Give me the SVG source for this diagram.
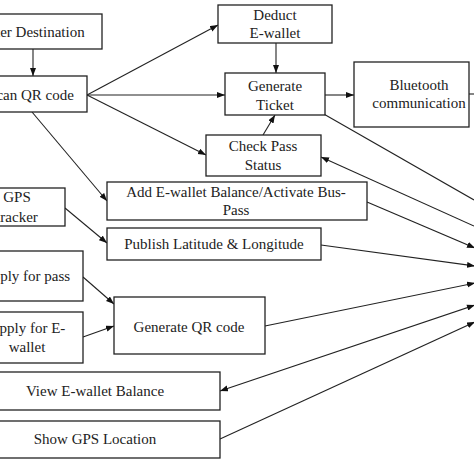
<svg xmlns="http://www.w3.org/2000/svg" width="474" height="474" viewBox="0 0 474 474">
<style>
.box{fill:#fff;stroke:#222;stroke-width:1.3}
.t{font-family:'Liberation Serif','DejaVu Serif',serif;font-size:15px;fill:#222;text-anchor:middle}
.c{fill:none;stroke:#222;stroke-width:1.1}
.a{marker-end:url(#ah)}
.b{marker-start:url(#ahs)}
</style>
<defs>
<marker id="ah" markerUnits="userSpaceOnUse" markerWidth="9" markerHeight="7" refX="8" refY="3" orient="auto"><path d="M0,0 L8,3 L0,6 z" fill="#111"/></marker>
<marker id="ahs" markerUnits="userSpaceOnUse" markerWidth="9" markerHeight="7" refX="0" refY="3" orient="auto"><path d="M8,0 L0,3 L8,6 z" fill="#111"/></marker>
</defs>
<rect width="474" height="474" fill="#fff"/>
<g id="connectors">
<path class="c a" d="M33,49 L33,76"/>
<path class="c a" d="M87,95 L218,25"/>
<path class="c a" d="M87,95 L225,95"/>
<path class="c a" d="M87,95 L206,155"/>
<path class="c a" d="M32,112 L107,201"/>
<path class="c a" d="M276,43 L276,73"/>
<path class="c a" d="M263,135 L275,115"/>
<path class="c a" d="M325,95 L354,95"/>
<path class="c" d="M469,94 L474,94"/>
<path class="c" d="M322,113 L474,200"/>
<path class="c a" d="M474,226 L321,157"/>
<path class="c a" d="M367,202 L475,248"/>
<path class="c a" d="M321,245 L475,266"/>
<path class="c a" d="M265,326 L475,283"/>
<path class="c a b" d="M475,305 L220,391"/>
<path class="c a" d="M220,439 L475,322"/>
<path class="c a" d="M65,208 L107,243"/>
<path class="c a" d="M83,277 L114,304"/>
<path class="c a" d="M83,337 L114,326"/>
</g>
<g id="enter-destination"><rect class="box" x="-36" y="14" width="138" height="35"/><text class="t" x="32" y="37" font-family="Liberation Serif, serif">Enter Destination</text></g>
<g id="scan-qr"><rect class="box" x="-25" y="76" width="112" height="36"/><text class="t" x="31" y="100">Scan QR code</text></g>
<g id="deduct"><rect class="box" x="218" y="5" width="114" height="38"/><text class="t" x="275" y="20">Deduct</text><text class="t" x="275" y="38">E-wallet</text></g>
<g id="generate-ticket"><rect class="box" x="225" y="73" width="100" height="42"/><text class="t" x="275" y="91">Generate</text><text class="t" x="275" y="110">Ticket</text></g>
<g id="bluetooth"><rect class="box" x="354" y="62" width="115" height="65"/><text class="t" x="419" y="90">Bluetooth</text><text class="t" x="419" y="108">communication</text></g>
<g id="check-pass"><rect class="box" x="206" y="135" width="115" height="41"/><text class="t" x="263" y="151">Check Pass</text><text class="t" x="263" y="170">Status</text></g>
<g id="add-ewallet"><rect class="box" x="107" y="182" width="260" height="38"/><text class="t" x="236" y="197">Add E-wallet Balance/Activate Bus-</text><text class="t" x="236" y="215">Pass</text></g>
<g id="gps-tracker"><rect class="box" x="-31" y="188" width="96" height="38"/><text class="t" x="17" y="202">GPS</text><text class="t" x="17" y="222">tracker</text></g>
<g id="publish"><rect class="box" x="107" y="228" width="214" height="32"/><text class="t" x="214" y="249">Publish Latitude &amp; Longitude</text></g>
<g id="apply-pass"><rect class="box" x="-31" y="251" width="114" height="50"/><text class="t" x="26" y="281">Apply for pass</text></g>
<g id="apply-ewallet"><rect class="box" x="-31" y="312" width="114" height="51"/><text class="t" x="27" y="333">Apply for E-</text><text class="t" x="27" y="352">wallet</text></g>
<g id="generate-qr"><rect class="box" x="114" y="297" width="151" height="57"/><text class="t" x="189" y="332">Generate QR code</text></g>
<g id="view-balance"><rect class="box" x="-30" y="372" width="250" height="38"/><text class="t" x="95" y="396">View E-wallet Balance</text></g>
<g id="show-gps"><rect class="box" x="-30" y="421" width="250" height="37"/><text class="t" x="95" y="444">Show GPS Location</text></g>
</svg>
